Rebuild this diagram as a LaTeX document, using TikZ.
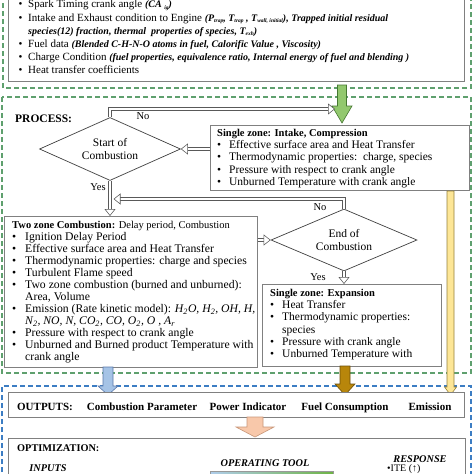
\documentclass[tikz,border=0pt]{standalone}
\usepackage{fontspec}
\setmainfont{Liberation Serif}
\usetikzlibrary{arrows.meta,shapes.geometric,calc}
\definecolor{gframe}{RGB}{95,160,110}
\definecolor{bframe}{RGB}{60,125,195}
\definecolor{garrF}{RGB}{146,200,110}
\definecolor{garrD}{RGB}{70,120,50}
\definecolor{barrF}{RGB}{165,195,230}
\definecolor{barrD}{RGB}{90,120,170}
\definecolor{oarrF}{RGB}{184,134,11}
\definecolor{oarrD}{RGB}{110,80,10}
\definecolor{yarrF}{RGB}{253,230,150}
\definecolor{yarrD}{RGB}{150,130,60}
\definecolor{parrF}{RGB}{248,200,170}
\definecolor{parrD}{RGB}{200,150,120}
\newcommand\bul[2][12pt]{\makebox[#1][l]{\textbullet}#2}
\newcommand\ii[1]{{\fontsize{10}{13}\selectfont\bfseries\itshape #1}}
\newcommand\sbs[1]{\raisebox{-1.3pt}{\fontsize{5.5}{6}\selectfont #1}}
\newcommand\blockarr[7]{%
  \draw[#7] (#1-#4,#2) -- (#1+#4,#2) -- (#1+#4,#3-#6) -- (#1+#5,#3-#6) -- (#1,#3)
    -- (#1-#5,#3-#6) -- (#1-#4,#3-#6) -- cycle;}
\begin{document}
\begin{tikzpicture}[x=1pt,y=-1pt,
  gbox/.style={draw=black!50, line width=0.7pt, fill=white, inner sep=0pt, anchor=north west},
  txt/.style={anchor=north west, inner sep=0pt, align=left},
  dia/.style={diamond, draw=black!75, line width=0.7pt, aspect=2.2, inner sep=0pt, align=center, font=\fontsize{11.5}{13}\selectfont},
  hol/.style={draw=black!65, line width=0.55pt, double=white, double distance=2.6pt, -{Triangle[length=7pt,width=11pt,fill=white]}},
  lbl/.style={font=\fontsize{10.5}{12}\selectfont, inner sep=0pt},
  gfr/.style={draw=gframe, line width=1.1pt, dash pattern=on 5pt off 3pt},
  bfr/.style={draw=bframe, line width=1.1pt, dash pattern=on 5pt off 3pt},
  body/.style={font=\fontsize{11.5}{12.2}\selectfont},
  outt/.style={font=\fontsize{11}{13}\selectfont\bfseries, inner sep=0pt, anchor=base}
]
\useasboundingbox (0,0) rectangle (474,474);
\fill[white] (0,0) rectangle (474,474);
% frames
\draw[gfr] (3,-5) -- (3,88) -- (471,88) -- (471,-5);
\draw[gfr] (2,97) rectangle (471,373);
\draw[bfr] (2,480) -- (2,386) -- (471,386) -- (471,480);
% input box
\node[gbox, minimum width=456pt, minimum height=86pt] (inbox) at (8,-5) {};
\node[txt, font=\fontsize{11}{13.2}\selectfont] (intxt) at (18.5,0) {%
\bul[9.5pt]{Spark Timing crank angle \ii{(CA \sbs{ig})}}\\
\bul[9.5pt]{Intake and Exhaust condition to Engine \ii{(P\sbs{trap}, T\sbs{trap} , T\sbs{wall, initial}), Trapped initial residual}}\\
\hspace*{9.5pt}\ii{species(12) fraction, thermal\ \ properties of species, T\sbs{exh})}\\
\bul[9.5pt]{Fuel data \ii{(Blended C-H-N-O atoms in fuel, Calorific Value , Viscosity)}}\\
\bul[9.5pt]{Charge Condition \ii{(fuel properties, equivalence ratio, Internal energy of fuel and blending )}}\\
\bul[9.5pt]{Heat transfer coefficients}};
% green arrow
\blockarr{342}{85}{123}{4.5}{10}{17}{fill=garrF, draw=garrD, line width=0.6pt}
% process label
\node[anchor=base west, inner sep=0pt, font=\fontsize{11.5}{13}\selectfont\bfseries] (proc) at (15,122) {PROCESS:};
% start of combustion
\node[dia, minimum width=141pt, minimum height=63pt] (soc) at (110,149) {Start of\\Combustion};
% single zone intake
\node[gbox, minimum width=259pt, minimum height=65pt] (sz1) at (210,125) {};
\node[txt, body] (sz1t) at (217,129) {%
{\fontsize{10.5}{12.2}\selectfont\bfseries Single zone: Intake, Compression}\\
\bul{Effective surface area and Heat Transfer}\\
\bul{Thermodynamic properties:\ \ charge, species}\\
\bul{Pressure with respect to crank angle}\\
\bul{Unburned Temperature with crank angle}};
% two zone
\node[gbox, minimum width=253pt, minimum height=151pt] (twoz) at (4,216) {};
\node[txt, body, font=\fontsize{11.7}{12}\selectfont] (twozt) at (12,221) {%
{\fontsize{10.5}{12}\selectfont\textbf{Two zone Combustion:} Delay period, Combustion}\\
\bul[13pt]{Ignition Delay Period}\\
\bul[13pt]{Effective surface area and Heat Transfer}\\
\bul[13pt]{Thermodynamic properties: charge and species}\\
\bul[13pt]{Turbulent Flame speed}\\
\bul[13pt]{Two zone combustion (burned and unburned):}\\
\hspace*{13pt}Area, Volume\\
\bul[13pt]{Emission (Rate kinetic model): \textit{H\textsubscript{2}O, H\textsubscript{2}, OH, H,}}\\
\hspace*{13pt}\textit{N\textsubscript{2}, NO, N, CO\textsubscript{2}, CO, O\textsubscript{2}, O , A\textsubscript{r}}\\
\bul[13pt]{Pressure with respect to crank angle}\\
\bul[13pt]{Unburned and Burned product Temperature with}\\
\hspace*{13pt}crank angle};
% end of combustion
\node[dia, minimum width=146pt, minimum height=62pt] (eoc) at (344,240) {End of\\Combustion};
% expansion
\node[gbox, minimum width=179pt, minimum height=82pt] (exp) at (262,284) {};
\node[txt, body] (expt) at (270,289) {%
{\fontsize{10.5}{12.2}\selectfont\bfseries Single zone: Expansion}\\
\bul{Heat Transfer}\\
\bul{Thermodynamic properties:}\\
\hspace*{12pt}species\\
\bul{Pressure with crank angle}\\
\bul{Unburned Temperature with}};
% connectors
\coordinate (noA) at (335,109);
\coordinate (noB) at (113.5,199);
\draw[hol] (soc.north) |- (noA);
\draw[hol] (sz1.west |- soc.east) -- (soc.east);
\draw[hol] (soc.south) -- (twoz.north -| soc.south);
\draw[hol] (eoc.north) |- (noB);
\draw[hol] (twoz.east |- eoc.west) -- (eoc.west);
\draw[hol] (eoc.south) -- (exp.north -| eoc.south);
\node[lbl] (no1) at (143,116) {No};
\node[lbl] (yes1) at (98,187) {Yes};
\node[lbl] (no2) at (320,207) {No};
\node[lbl] (yes2) at (318,277) {Yes};
% output arrows
\blockarr{450.5}{191}{395}{3.5}{6}{8}{fill=yarrF, draw=yarrD, line width=0.6pt}
\blockarr{108}{367}{395}{5}{10}{9}{fill=barrF, draw=barrD, line width=0.6pt}
\blockarr{345}{366}{395}{5}{10}{11}{fill=oarrF, draw=oarrD, line width=0.6pt}
% outputs
\node[gbox, minimum width=456pt, minimum height=25pt] (out) at (8,392) {};
\node[outt] (o1) at (45,410) {OUTPUTS:};
\node[outt] (o2) at (142,410) {Combustion Parameter};
\node[outt] (o3) at (248,410) {Power Indicator};
\node[outt] (o4) at (345,410) {Fuel Consumption};
\node[outt] (o5) at (430,410) {Emission};
\blockarr{255}{417}{437}{8}{19}{10}{fill=parrF, draw=parrD, line width=0.6pt}
% optimization
\node[gbox, minimum width=457pt, minimum height=50pt] (opt) at (8,438) {};
\node[anchor=base west, inner sep=0pt, font=\fontsize{10.3}{12}\selectfont\bfseries] (optl) at (17,451) {OPTIMIZATION:};
\node[anchor=base, inner sep=0pt, font=\fontsize{10.3}{12}\selectfont\bfseries\itshape] (inp) at (48,471) {INPUTS};
\node[anchor=base, inner sep=0pt, font=\fontsize{10.3}{12}\selectfont\bfseries\itshape] (opl) at (265,466) {OPERATING TOOL};
\node[anchor=base, inner sep=0pt, font=\fontsize{10.3}{12}\selectfont\bfseries\itshape] (resp) at (420,462) {RESPONSE};
\shade[left color={rgb,255:red,175;green,205;blue,235}, right color={rgb,255:red,110;green,180;blue,70}, draw=black!40] (210,471) rectangle (333,492);
\node[anchor=base west, inner sep=0pt, font=\fontsize{10}{12}\selectfont] (ite) at (387,471.5) {\textbullet ITE (↑)};
\end{tikzpicture}
\end{document}
